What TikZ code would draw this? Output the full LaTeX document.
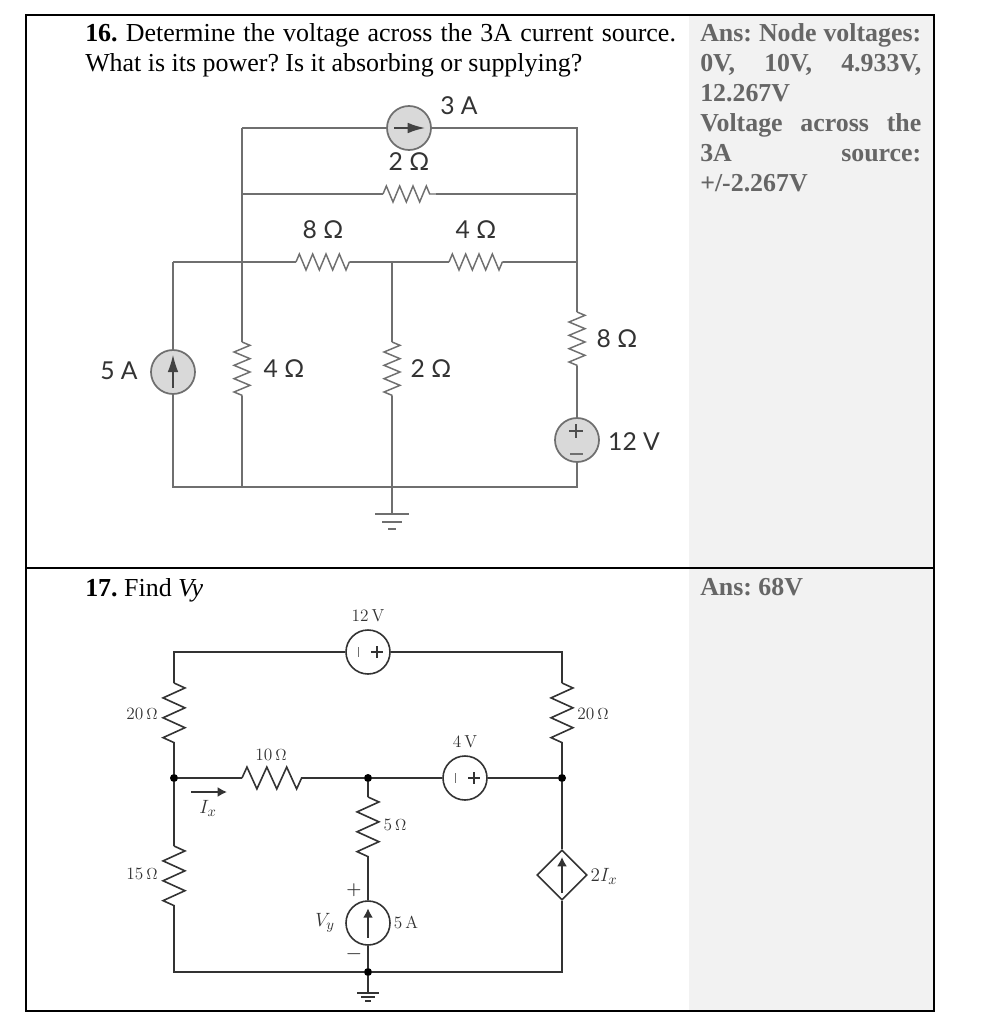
\documentclass[tikz,border=0pt]{standalone}
\usepackage{fontspec}
\setmainfont{Liberation Serif}
\newfontfamily\circfont{Lato}
\newfontfamily\lmfont{Latin Modern Roman}
\usetikzlibrary{arrows.meta,decorations.pathmorphing,shapes.geometric}
\definecolor{wirea}{HTML}{6F6F6F}
\definecolor{srcfill}{HTML}{D9D9D9}
\definecolor{txta}{HTML}{333333}
\definecolor{wireb}{HTML}{333333}
\definecolor{anspanel}{HTML}{F2F2F2}
\definecolor{anstext}{HTML}{666666}
\newcommand{\ansline}[1]{\makebox[165.75pt][s]{#1}}
\tikzset{
  wa/.style={draw=wirea,line width=1.1pt},
  wb/.style={draw=wireb,line width=1.2pt},
  resa/.style={wa,decorate,decoration={zigzag,segment length=10pt,amplitude=6pt}},
  resb/.style={wb,decorate,decoration={zigzag,segment length=14.9pt,amplitude=8.2pt}},
  srca/.style={circle,draw=wirea,line width=1.3pt,fill=srcfill,minimum size=33pt,inner sep=0pt},
  srcb/.style={circle,draw=wireb,line width=1.2pt,fill=white,minimum size=33pt,inner sep=0pt},
  lba/.style={font=\circfont\fontsize{18.5pt}{21pt}\selectfont,text=txta,inner sep=0pt},
  lbb/.style={font=\lmfont\fontsize{13pt}{15pt}\selectfont,text=wireb,inner sep=0pt},
  lbm/.style={font=\lmfont\fontsize{15.5pt}{17pt}\selectfont,text=wireb,inner sep=0pt},
  lbs/.style={font=\lmfont\bfseries\fontsize{13pt}{15pt}\selectfont,text=wireb,inner sep=0pt},
  qtext/.style={font=\frenchspacing\fontsize{19.45pt}{22.5pt}\selectfont,anchor=north west,align=left,inner sep=0pt,text=black},
  atext/.style={font=\frenchspacing\bfseries\fontsize{19.4pt}{22.5pt}\selectfont,anchor=north west,align=left,inner sep=0pt,text=anstext},
  dotb/.style={circle,fill=black,minimum size=6pt,inner sep=0pt},
  tipa/.style={-{Latex[length=13pt,width=8pt]},draw=wirea!60!black,line width=1.3pt},
  tipb/.style={-{Latex[length=7pt,width=7.5pt]},draw=wireb,line width=1.3pt},
}
\begin{document}
\begin{tikzpicture}[x=0.75pt,y=-0.75pt]
\useasboundingbox (0,0) rectangle (998,1024);
\fill[white] (0,0) rectangle (998,1024);
\fill[anspanel] (689,16) rectangle (933,1011);
\draw[black,line width=1.5pt] (26,15) rectangle (934,1011);
\draw[black,line width=1.5pt] (26,568) -- (934,568);

\node[qtext] (q16) at (85,23) {\makebox[443pt][s]{\textbf{16.} Determine the voltage across the 3A current source.}\\What is its power? Is it absorbing or supplying?};
\node[qtext] (q17) at (85,578) {\textbf{17.} Find \textit{Vy}};
\node[atext] (a16) at (700,23) {\ansline{Ans: Node voltages:}\\\ansline{0V,\hfill 10V,\hfill 4.933V,}\\12.267V\\\ansline{Voltage\hfill across\hfill the}\\\ansline{3A\hfill source:}\\+/-2.267V};
\node[atext] (a17) at (700,578) {Ans: 68V};

% ---------- circuit 16
\coordinate (tl) at (242,128);
\coordinate (tr) at (577,128);
\coordinate (ml) at (242,194);
\coordinate (mr) at (577,194);
\coordinate (nl) at (242,262);
\coordinate (nm) at (392,262);
\coordinate (nr) at (577,262);
\coordinate (nf) at (173,262);
\coordinate (bf) at (173,487);
\coordinate (bl) at (242,487);
\coordinate (bm) at (392,487);
\coordinate (br) at (577,487);
\coordinate (g1) at (392,514);
\coordinate (r2a) at (383,194); \coordinate (r2b) at (436,194);
\coordinate (r8a) at (296,262); \coordinate (r8b) at (350,262);
\coordinate (r4a) at (449,262); \coordinate (r4b) at (503,262);
\coordinate (v4a) at (242,342); \coordinate (v4b) at (242,396);
\coordinate (v2a) at (392,342); \coordinate (v2b) at (392,396);
\coordinate (v8a) at (577,312); \coordinate (v8b) at (577,366);
\node[srca] (s3) at (409,128) {};
\node[srca] (s5) at (173,372) {};
\node[srca] (s12) at (577,440) {};
\draw[wa] (tl) -- (s3) (s3) -- (tr) -- (mr) -- (nr) -- (v8a);
\draw[wa] (tl) -- (ml) -- (nl) -- (v4a);
\draw[wa] (ml) -- (r2a) (r2b) -- (mr);
\draw[wa] (nf) -- (nl) -- (r8a) (r8b) -- (nm) -- (r4a) (r4b) -- (nr);
\draw[wa] (nf) -- (s5) (s5) -- (bf) -- (bl) -- (bm) -- (br) -- (s12);
\draw[wa] (v4b) -- (bl) (nm) -- (v2a) (v2b) -- (bm) (v8b) -- (s12);
\draw[wa] (bm) -- (g1);
\draw[resa] (r2a) -- (r2b);
\draw[resa] (r8a) -- (r8b);
\draw[resa] (r4a) -- (r4b);
\draw[resa] (v4a) -- (v4b);
\draw[resa] (v2a) -- (v2b);
\draw[resa] (v8a) -- (v8b);
\draw[wa] (375,514) -- (409,514) (382,522) -- (402,522) (388,529) -- (396,529);
\draw[tipa] ([xshift=-11pt]s3.center) -- ([xshift=12pt]s3.center);
\draw[tipa] ([yshift=-12pt]s5.center) -- ([yshift=13pt]s5.center);
\draw[wa,draw=wirea!70!black] (569,431) -- (583,431) (576,424) -- (576,438);
\draw[wa,draw=wirea] (570,454) -- (583,454);
\node[lba] (l3a) at (459,106) {3 A};
\node[lba] (l2a) at (409,162) {2 Ω};
\node[lba] (l8a) at (323,230) {8 Ω};
\node[lba] (l4a) at (476,230) {4 Ω};
\node[lba] (l5a) at (119,371) {5 A};
\node[lba] (l4b) at (284,369) {4 Ω};
\node[lba] (l2b) at (431,369) {2 Ω};
\node[lba] (l8b) at (617,339) {8 Ω};
\node[lba] (l12) at (634,442) {12 V};

% ---------- circuit 17
\coordinate (atl) at (174,652);
\coordinate (atr) at (562,652);
\coordinate (aml) at (174,778);
\coordinate (amm) at (368,778);
\coordinate (amr) at (562,778);
\coordinate (abl) at (174,972);
\coordinate (abr) at (562,972);
\coordinate (g2) at (368,993);
\coordinate (rl1a) at (174,683); \coordinate (rl1b) at (174,744);
\coordinate (rr1a) at (562,683); \coordinate (rr1b) at (562,744);
\coordinate (rl2a) at (174,846); \coordinate (rl2b) at (174,907);
\coordinate (r10a) at (242,778); \coordinate (r10b) at (303,778);
\coordinate (r5a) at (368,797); \coordinate (r5b) at (368,858);
\node[srcb] (v12) at (368,652) {};
\node[srcb] (v4) at (465,778) {};
\node[srcb] (i5) at (368,923) {};
\node[diamond,draw=wireb,line width=1.2pt,fill=white,minimum size=37.5pt,inner sep=0pt,aspect=1] (dep) at (562,875) {};
\node[dotb] (d1) at (aml) {};
\node[dotb] (d2) at (amm) {};
\node[dotb] (d3) at (amr) {};
\node[dotb] (d4) at (368,972) {};
\draw[wb] (rl1a) -- (atl) -- (v12) (v12) -- (atr) -- (rr1a);
\draw[wb] (rl1b) -- (d1) -- (rl2a) (rl2b) -- (abl) -- (d4) -- (abr) -- (dep);
\draw[wb] (d1) -- (r10a) (r10b) -- (d2) -- (v4) (v4) -- (d3);
\draw[wb] (rr1b) -- (d3) -- (dep);
\draw[wb] (d2) -- (r5a) (r5b) -- (i5) (i5) -- (d4) -- (g2);
\draw[resb] (rl1a) -- (rl1b);
\draw[resb] (rr1a) -- (rr1b);
\draw[resb] (rl2a) -- (rl2b);
\draw[resb] (r10a) -- (r10b);
\draw[resb] (r5a) -- (r5b);
\draw[wb] (357,993) -- (379,993) (361,997) -- (375,997) (365,1001) -- (371,1001);
\draw[tipb] ([yshift=-11pt]i5.center) -- ([yshift=11pt]i5.center);
\draw[tipb] ([yshift=-13.5pt]dep.center) -- ([yshift=13.5pt]dep.center);
\coordinate (ixa) at (191,792); \coordinate (ixb) at (227,792);
\draw[tipb] (ixa) -- (ixb);
\draw[wb,line width=0.7pt,draw=wireb!70] (358,647) -- (358,657);
\draw[wb,line width=0.9pt] (371,652) -- (383,652) (377,646) -- (377,658);
\draw[wb,line width=0.7pt,draw=wireb!70] (455,773) -- (455,783);
\draw[wb,line width=0.9pt] (468,778) -- (480,778) (474,772) -- (474,784);
\node[lbb] (t12) at (368,616) {12\,V};
\node[lbb] (t4) at (465,742) {4\,V};
\node[lbb] (t20l) at (142,714) {20\,$\Omega$};
\node[lbb] (t20r) at (593,714) {20\,$\Omega$};
\node[lbb] (t10) at (271,755) {10\,$\Omega$};
\node[lbb] (t15) at (142,874) {15\,$\Omega$};
\node[lbb] (t5) at (395,825) {5\,$\Omega$};
\node[lbb] (t5a) at (406,922) {5\,A};
\node[lbm] (tix) at (208,808) {$I_x$};
\node[lbm] (tvy) at (325,923) {$V_y$};
\node[lbm] (t2ix) at (604,876) {$2I_x$};
\node[lbs] (tp) at (354,890) {+};
\node[lbs] (tm) at (354,956) {−};
\end{tikzpicture}
\end{document}
